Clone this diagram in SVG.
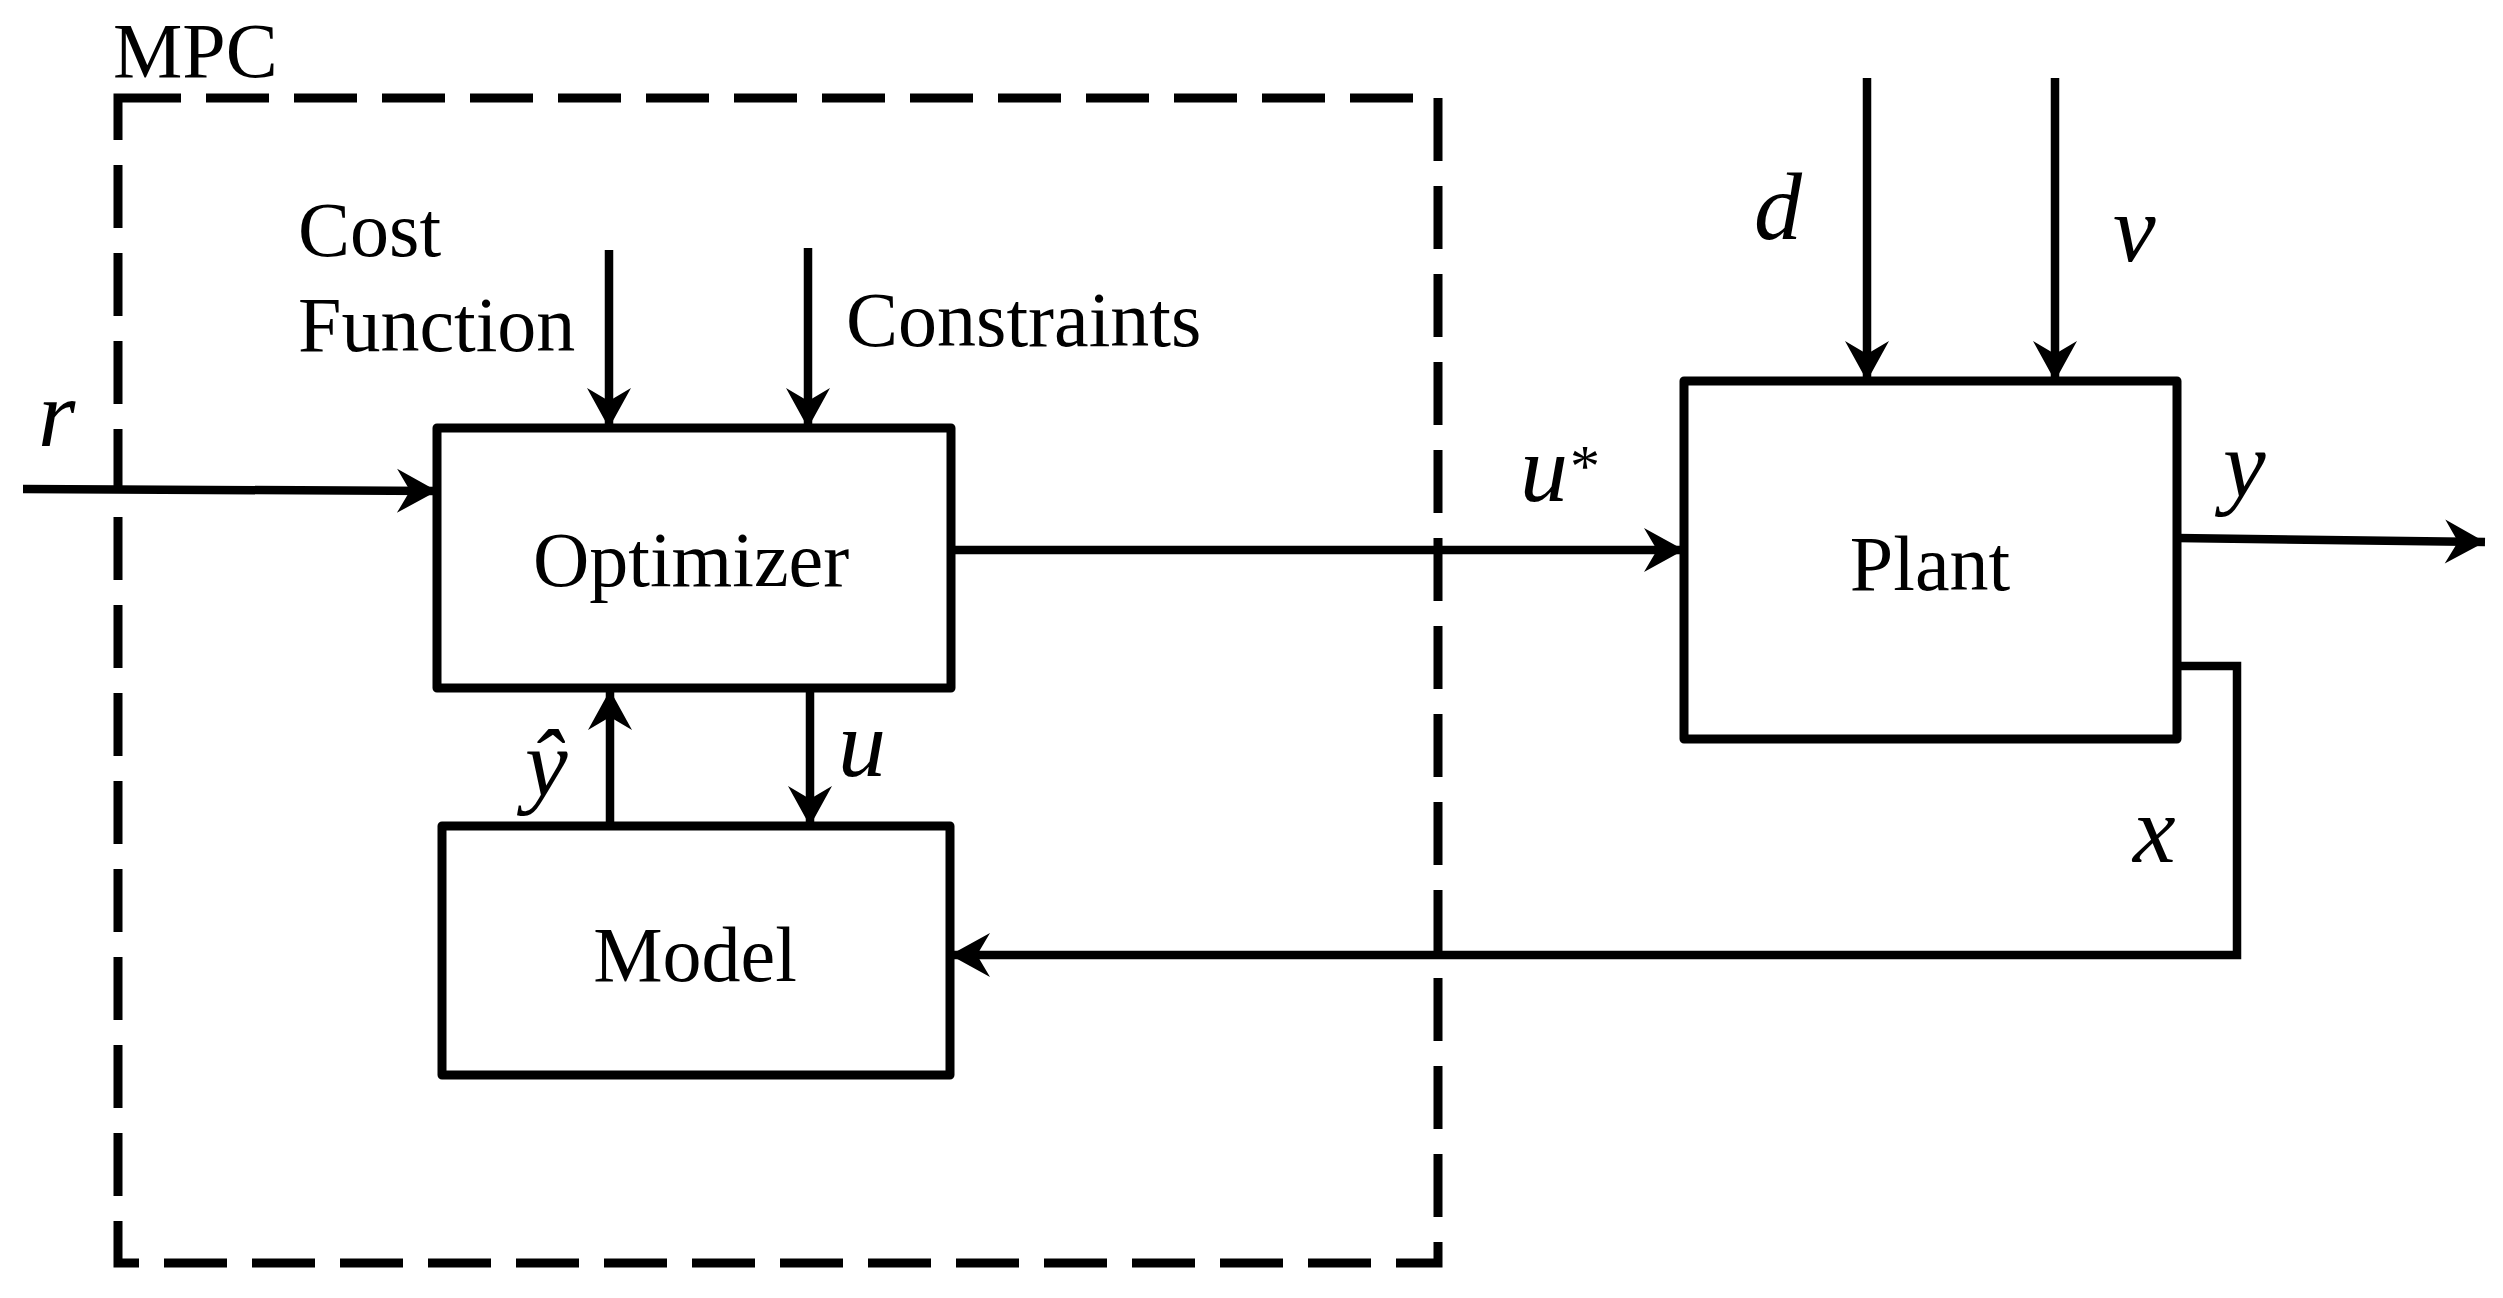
<svg xmlns="http://www.w3.org/2000/svg" width="2503" height="1298" viewBox="0 0 2503 1298">
<style>
.box{fill:none;stroke:#000;stroke-width:9;stroke-linejoin:round}
.ln{fill:none;stroke:#000;stroke-width:8.5}
.arr{marker-end:url(#ah)}
.t{font-family:"Liberation Serif","Times New Roman",serif;font-size:78px;fill:#000}
.m{font-family:"Liberation Serif","Times New Roman",serif;font-style:italic;font-size:96px;fill:#000}
.dash{fill:none;stroke:#000;stroke-width:9;stroke-dasharray:63 25}
</style>
<defs>
<marker id="ah" markerUnits="userSpaceOnUse" viewBox="-44 -26 46 52" refX="0" refY="0" markerWidth="46" markerHeight="52" orient="auto">
<path d="M0,0 L-40,-22 L-27,0 L-40,22 Z" fill="#000"/>
</marker>
</defs>
<rect width="2503" height="1298" fill="#fff"/>
<g id="mpc">
<rect class="dash" x="118" y="98" width="1320" height="1165"/>
<text class="t" x="113" y="77">MPC</text>
</g>
<g id="optimizer">
<rect class="box" x="437" y="428" width="514" height="260"/>
<text class="t" x="691" y="586" text-anchor="middle">Optimizer</text>
</g>
<g id="model">
<rect class="box" x="442" y="826" width="508" height="249"/>
<text class="t" x="695" y="981" text-anchor="middle">Model</text>
</g>
<g id="plant">
<rect class="box" x="1684" y="381" width="493" height="358"/>
<text class="t" x="1930" y="590" text-anchor="middle">Plant</text>
</g>
<g id="connectors">
<path class="ln arr" d="M23,489 L437,491"/>
<path class="ln arr" d="M609,250 L609,428"/>
<path class="ln arr" d="M808,248 L808,428"/>
<path class="ln arr" d="M951,550 L1684,550"/>
<path class="ln arr" d="M1867,78 L1867,381"/>
<path class="ln arr" d="M2055,78 L2055,381"/>
<path class="ln arr" d="M2177,538 L2485,542"/>
<path class="ln arr" d="M2177,666 L2237,666 L2237,955 L950,955"/>
<path class="ln arr" d="M610,826 L610,690"/>
<path class="ln arr" d="M810,688 L810,826"/>
</g>
<g id="labels">
<text class="t" x="298" y="256">Cost</text>
<text class="t" x="298" y="351">Function</text>
<text class="t" x="846" y="346">Constraints</text>
<text class="m" x="38" y="446">r</text>
<text class="m" x="1520" y="501">u</text>
<text class="m" x="1570" y="486" style="font-size:60px;font-style:normal">*</text>
<text class="m" x="1754" y="239">d</text>
<text class="m" x="2113" y="261">v</text>
<text class="m" x="2223" y="497">y</text>
<text class="m" x="2133" y="862">x</text>
<text class="m" x="525" y="796">ŷ</text>
<text class="m" x="838" y="776">u</text>
</g>
</svg>
